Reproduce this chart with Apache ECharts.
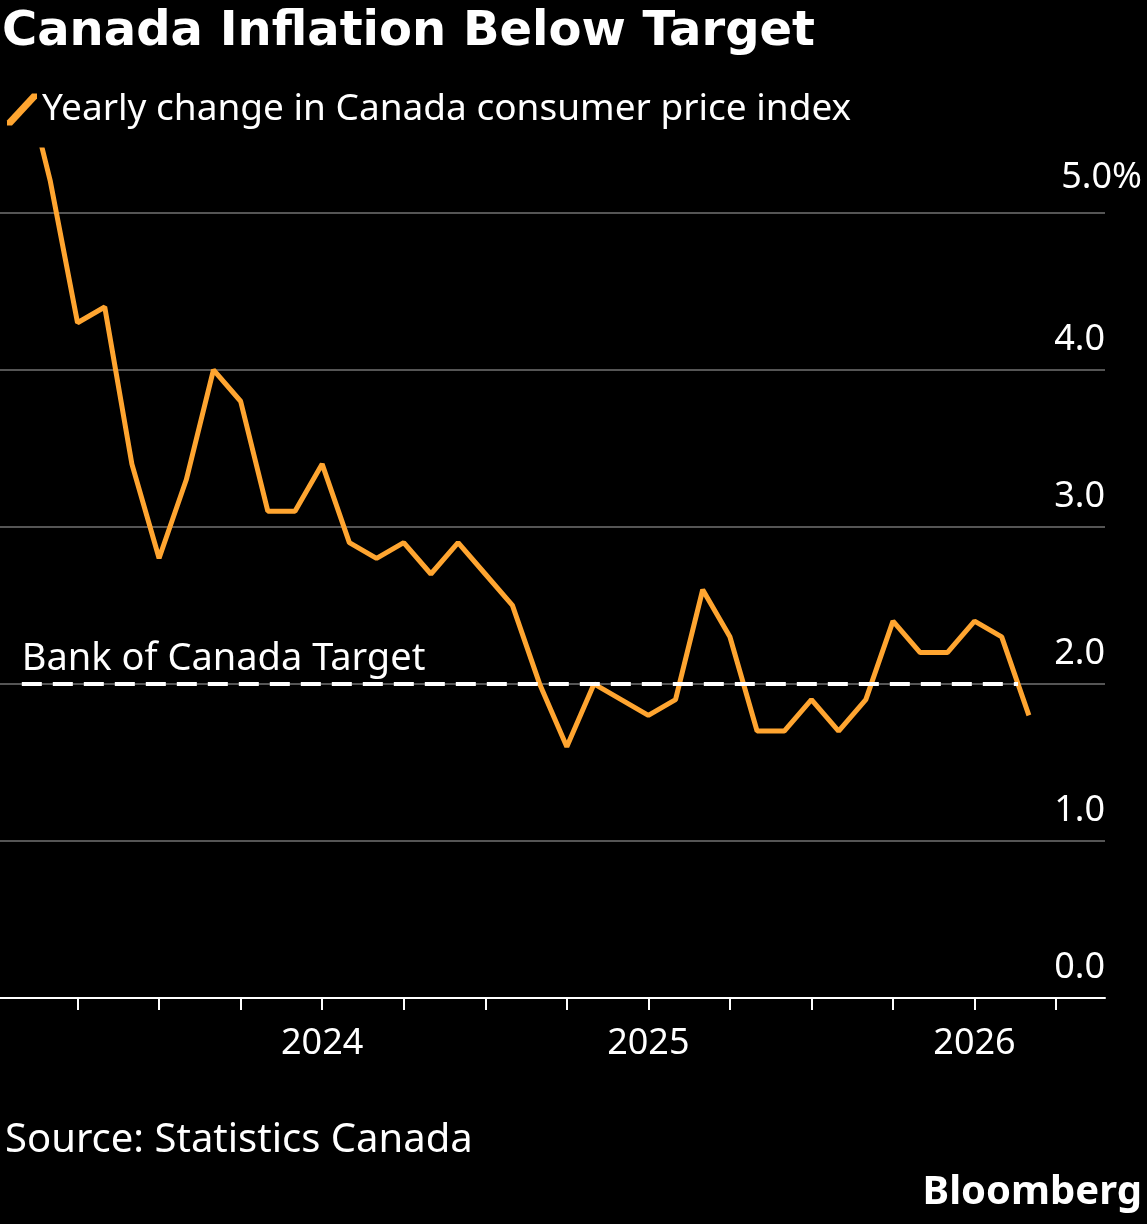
<!DOCTYPE html>
<html>
<head>
<meta charset="utf-8">
<script src="https://cdn.jsdelivr.net/npm/echarts@6/dist/echarts.min.js"></script>
<style>html,body{margin:0;background:#000;overflow:hidden;}#chart{width:1154px;height:1224px;margin-left:-7px;}</style>
</head>
<body>
<div id="chart"></div>
<script>
var chart = echarts.init(document.getElementById("chart"));

// Yearly CPI change, Jan 2023 .. Feb 2026 (plotted at month end)
var cpi = [5.9, 5.2, 4.3, 4.4, 3.4, 2.8, 3.3, 4.0, 3.8, 3.1, 3.1, 3.4,
  2.9, 2.8, 2.9, 2.7, 2.9, 2.7, 2.5, 2.0, 1.6, 2.0, 1.9, 1.8,
  1.9, 2.6, 2.3, 1.7, 1.7, 1.9, 1.7, 1.9, 2.4, 2.2, 2.2, 2.4,
  2.3, 1.8];
// x in months since Jan 1 2023
var data = cpi.map(function (v, i) { return [i + 1, v]; });

var font = "Noto Sans";
var option = {
  backgroundColor: "#000",
  animation: false,
  title: [
    { text: "Canada Inflation Below Target", left: 4, top: 4,
      textStyle: { color: "#fff", fontSize: 48, fontWeight: "bold", fontFamily: "DejaVu Sans" } },
    { text: "Source: Statistics Canada", left: 7, top: 1116,
      textStyle: { color: "#fff", fontSize: 40, fontWeight: "normal", fontFamily: font } },
    { text: "Bloomberg", right: 0, top: 1168,
      textStyle: { color: "#fff", fontSize: 40, fontWeight: "bold", fontFamily: font } }
  ],
  graphic: [{
    type: "text", right: 5, top: 160,
    style: { text: "5.0%", fill: "#fff", fontSize: 36, fontFamily: font }
  }],
  legend: {
    left: 9, top: 86, itemWidth: 30, itemHeight: 32, itemGap: 20,
    icon: "path://M0,32 L5,32 L30,5 L30,0 L25,0 L0,27 Z",
    data: [{ name: "Yearly change in Canada consumer price index", itemStyle: { color: "#ffa530" } }],
    textStyle: { color: "#fff", fontSize: 37, fontFamily: font }
  },
  grid: { left: 0, right: 42, top: 150, bottom: 226 },
  xAxis: {
    type: "value", min: 0, max: 40.8, interval: 3,
    axisLine: { lineStyle: { color: "#fff", width: 2 } },
    axisTick: { show: true, length: 12, lineStyle: { color: "#fff", width: 2 } },
    splitLine: { show: false },
    axisLabel: {
      color: "#fff", fontSize: 36, fontFamily: font, margin: 28, showMaxLabel: false,
      formatter: function (v) { return v % 12 === 0 && v > 0 ? String(2023 + v / 12) : ""; }
    }
  },
  yAxis: {
    type: "value", position: "right", min: 0, max: 5.4, interval: 1,
    axisLine: { show: false }, axisTick: { show: false },
    splitLine: { lineStyle: { color: ["#555", "#555", "#555", "#555", "#555", "#555", "rgba(0,0,0,0)"], width: 2 } },
    axisLabel: {
      inside: true, showMaxLabel: false, color: "#fff", fontSize: 36, fontFamily: font,
      verticalAlign: "bottom", margin: 0, padding: [0, 0, 12, 0],
      formatter: function (v) { return v === 5 ? "" : v.toFixed(1); }
    }
  },
  series: [{
    name: "Yearly change in Canada consumer price index",
    type: "line", data: data, showSymbol: false, symbol: "none",
    lineStyle: { color: "#ffa530", width: 5 }, itemStyle: { color: "#ffa530" },
    markLine: {
      silent: true, symbol: "none",
      lineStyle: { color: "#fff", type: [20, 11], width: 4 },
      label: { show: true, position: "insideStartTop", formatter: "Bank of Canada Target",
        color: "#fff", fontSize: 38, fontFamily: font, distance: [0, 6] },
      data: [[{ coord: [0.95, 2] }, { coord: [37.6, 2] }]]
    }
  }]
};
chart.setOption(option);
</script>
</body>
</html>
